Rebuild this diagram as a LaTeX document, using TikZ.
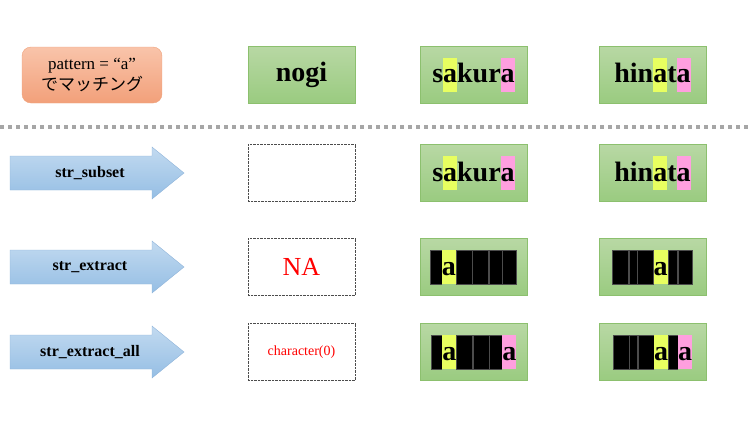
\documentclass[tikz,border=0pt]{standalone}
\usepackage{fontspec}
\setmainfont{Liberation Serif}
\newfontfamily\jp{Noto Sans CJK JP}
\definecolor{gtop}{HTML}{B8D8A4}\definecolor{gbot}{HTML}{9ACB80}\definecolor{gbd}{HTML}{8CC06E}
\definecolor{otop}{HTML}{F9C4AA}\definecolor{obot}{HTML}{F2A07A}\definecolor{obd}{HTML}{EFA27C}
\definecolor{btop}{HTML}{C2DAF0}\definecolor{bbot}{HTML}{95BEE4}\definecolor{bbd}{HTML}{8FB4DA}
\definecolor{hy}{HTML}{E8FF60}\definecolor{hp}{HTML}{FF9FDF}
\newcommand{\st}{\rule[-9pt]{0pt}{34pt}}
\newcommand{\ly}[1]{\colorbox{hy}{\st#1}}
\newcommand{\lp}[1]{\colorbox{hp}{\st#1}}
\newcommand{\lb}[1]{\fcolorbox{black!70}{black}{\st#1}}
\tikzset{
 green/.style={draw=gbd,top color=gtop,bottom color=gbot,minimum width=107pt,minimum height=57pt,inner sep=0pt,font=\fontsize{28}{30}\selectfont\bfseries},
 dotbox/.style={draw=black!70,densely dotted,minimum width=107pt,minimum height=57pt},
 lbl/.style={font=\fontsize{16}{18}\selectfont\bfseries},
}
\begin{document}
\begin{tikzpicture}[x=1pt,y=-1pt]
\useasboundingbox (0,0) rectangle (752,423);
\setlength\fboxsep{0pt}\setlength\fboxrule{0.4pt}
\node[draw=obd,top color=otop,bottom color=obot,rounded corners=9pt,minimum width=140pt,minimum height=56pt,align=center,font=\fontsize{17}{21}\selectfont] (pat) at (92,75) {pattern = “a”\\{\jp でマッチング}};
\node[green] (t1) at (301.5,74.5) {nogi};
\node[green] (t2) at (473.5,74.5) {s\ly{a}kur\lp{a}};
\node[green] (t3) at (652.5,74.5) {hin\ly{a}t\lp{a}};
\draw[line width=4pt,gray!70,dash pattern=on 4pt off 4pt] (0,127) -- (752,127);
\foreach \y/\n/\t in {173/a1/str\_subset,267/a2/str\_extract,352/a3/str\_extract\_all}{
 \shade[draw=bbd,top color=btop,bottom color=bbot] (10,\y-17) -- (152,\y-17) -- (152,\y-26) -- (184,\y) -- (152,\y+26) -- (152,\y+17) -- (10,\y+17) -- cycle;
 \node[lbl] (\n) at (90,\y) {\t};
}
\node[dotbox] (s1) at (301.5,173) {};
\node[green] (s2) at (473.5,173) {s\ly{a}kur\lp{a}};
\node[green] (s3) at (652.5,173) {hin\ly{a}t\lp{a}};
\node[dotbox,text=red,font=\fontsize{26}{28}\selectfont] (e1) at (301.5,267) {NA};
\node[green] (e2) at (473.5,267) {\lb{s}\ly{a}\lb{k}\lb{u}\lb{r}\lb{a}};
\node[green] (e3) at (652.5,267) {\lb{h}\lb{i}\lb{n}\ly{a}\lb{t}\lb{a}};
\node[dotbox,text=red,font=\fontsize{14}{16}\selectfont] (x1) at (301.5,352) {character(0)};
\node[green] (x2) at (473.5,352) {\lb{s}\ly{a}\lb{k}\lb{u}\lb{r}\lp{a}};
\node[green] (x3) at (652.5,352) {\lb{h}\lb{i}\lb{n}\ly{a}\lb{t}\lp{a}};
\end{tikzpicture}
\end{document}
